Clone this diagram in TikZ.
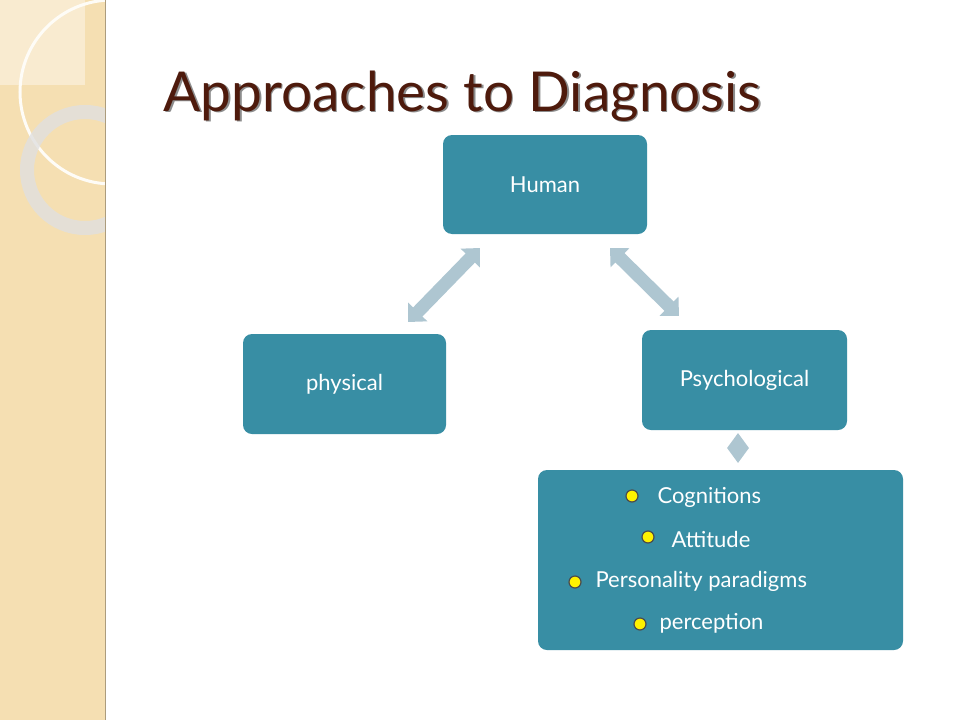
\documentclass[tikz,border=0pt]{standalone}
\usepackage{fontspec}
\setmainfont{Lato}
\usetikzlibrary{arrows.meta,shapes.geometric}
\definecolor{teal}{HTML}{388EA4}
\definecolor{arr}{HTML}{AEC6D1}
\definecolor{beige}{HTML}{F5DFB2}
\definecolor{brownT}{HTML}{4E1A0C}
\begin{document}
\begin{tikzpicture}[x=1pt,y=-1pt,
 box/.style={draw=none,fill=teal,rounded corners=9pt,text=white,font=\fontsize{22}{26}\selectfont},
 dbl/.style={draw=arr,line width=13pt,{Triangle[length=14pt,width=26pt]}-{Triangle[length=14pt,width=26pt]}},
 bul/.style={circle,draw=black!70,fill=yellow,inner sep=0pt,minimum size=12pt,line width=1.2pt},
 itm/.style={text=white,font=\fontsize{22}{26}\selectfont,anchor=west}]
\useasboundingbox (0,0) rectangle (960,720);
\fill[white] (0,0) rectangle (960,720);
% left strip
\begin{scope}
\clip (0,0) rectangle (105,720);
\fill[beige] (0,0) rectangle (105,720);
\fill[white,opacity=0.4] (0,0) rectangle (85,85);
\draw[white!90!beige,line width=3pt] (112,92) circle (92);
\draw[black!12,line width=14pt,opacity=0.8] (85,170) circle (58);
\end{scope}
\draw[beige!70!black,line width=1pt] (105,0) -- (105,720);
% title
\node[anchor=base west,text=black!45,font=\fontsize{55}{60}\selectfont] at (161.5,112.5) {Approaches to Diagnosis};
\node[anchor=base west,text=brownT,font=\fontsize{55}{60}\selectfont] (title) at (160,111) {Approaches to Diagnosis};
% boxes
\node[box,minimum width=204pt,minimum height=99pt] (h) at (545,184.5) {Human};
\node[box,minimum width=203pt,minimum height=100pt] (p) at (344.5,384) {physical};
\node[box,minimum width=205pt,minimum height=100pt] (s) at (744.5,380) {Psychological};
\node[box,minimum width=365pt,minimum height=180pt] (l) at (720.5,560) {};
% arrows
\coordinate (a1) at (480,248); \coordinate (a2) at (408,322);
\coordinate (b1) at (610,248); \coordinate (b2) at (679,316);
\draw[dbl] (a1) -- (a2);
\draw[dbl] (b1) -- (b2);
\node[diamond,fill=arr,minimum width=22pt,minimum height=30pt,inner sep=0pt] (d) at (738,448) {};
% list
\node[bul] (c1) at (632,496) {}; \node[itm] (t1) at (654,497) {Cognitions};
\node[bul] (c2) at (648,537) {}; \node[itm] (t2) at (668,539) {Attitude};
\node[bul] (c3) at (575,582) {}; \node[itm] (t3) at (592,581) {Personality paradigms};
\node[bul] (c4) at (640,624) {}; \node[itm] (t4) at (656,623) {perception};
\end{tikzpicture}
\end{document}
